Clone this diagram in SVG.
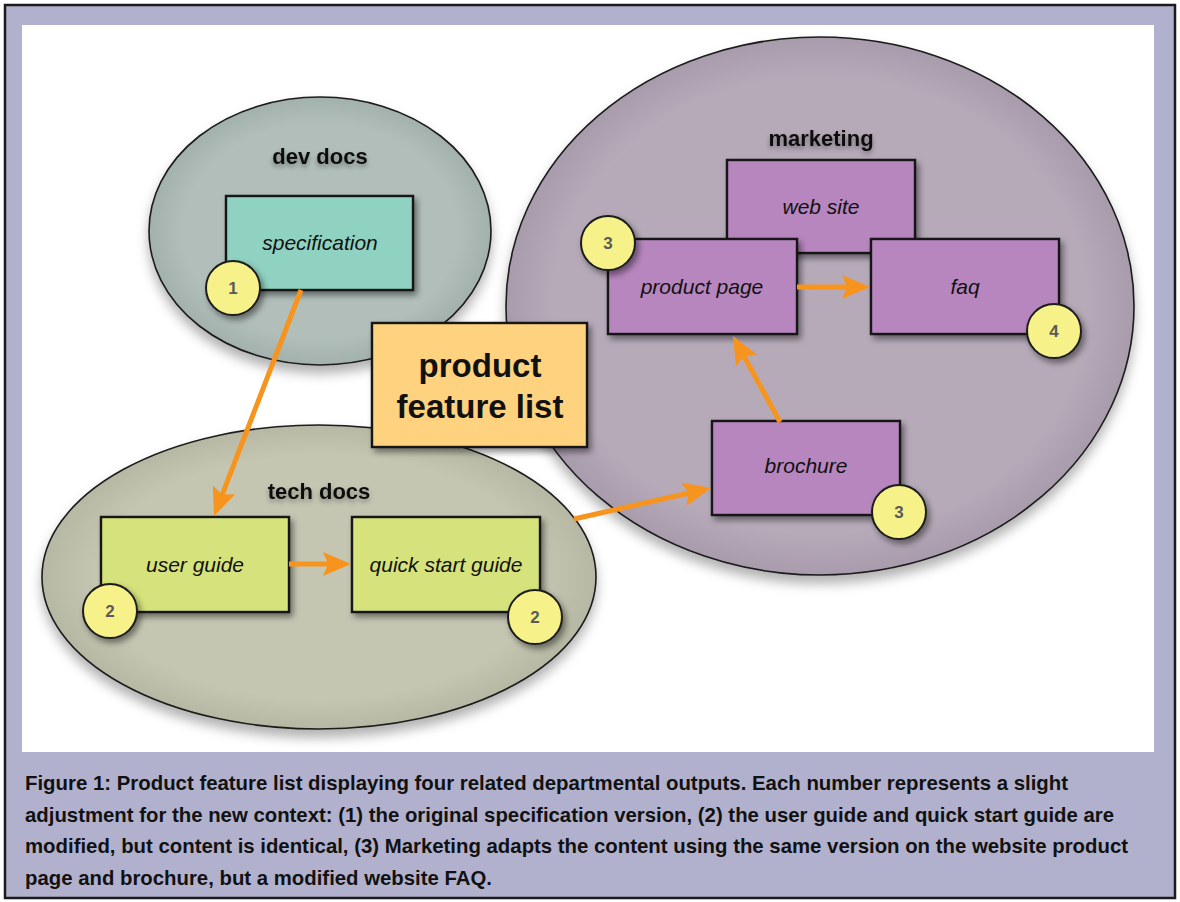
<svg xmlns="http://www.w3.org/2000/svg" width="1180" height="902" viewBox="0 0 1180 902">
  <defs>
    <style>
      .grp { stroke: #1c1c1c; stroke-width: 1.6; }
      .box { stroke: #151515; stroke-width: 2.4; filter: url(#boxShadow); }
      .badge { fill: #F6F188; stroke: #1c1c1c; stroke-width: 2; filter: url(#boxShadow); }
      .badgeTxt { font-family: "Liberation Sans", Arial, sans-serif; font-weight: bold; font-size: 17px; fill: #5a5a5a; text-anchor: middle; }
      .grpTxt { font-family: "Liberation Sans", Arial, sans-serif; font-weight: bold; font-size: 22px; fill: #111; text-anchor: middle; filter: url(#txtShadow); }
      .boxTxt { font-family: "Liberation Sans", Arial, sans-serif; font-style: italic; font-size: 21px; fill: #111; text-anchor: middle; }
      .bigTxt { font-family: "Liberation Sans", Arial, sans-serif; font-weight: bold; font-size: 33px; fill: #111; text-anchor: middle; }
      .cap { font-family: "Liberation Sans", Arial, sans-serif; font-weight: bold; font-size: 21px; fill: #111; }
      .arrow { stroke: #F7941D; stroke-width: 5; fill: none; marker-end: url(#head); }
    </style>
    <filter id="boxShadow" x="-20%" y="-20%" width="150%" height="160%">
      <feDropShadow dx="3" dy="4" stdDeviation="3" flood-color="#000" flood-opacity="0.45"/>
    </filter>
    <filter id="ellShadow" x="-10%" y="-10%" width="120%" height="130%">
      <feDropShadow dx="0" dy="8" stdDeviation="6" flood-color="#000" flood-opacity="0.3"/>
    </filter>
    <filter id="txtShadow" x="-20%" y="-40%" width="140%" height="200%">
      <feDropShadow dx="0" dy="3" stdDeviation="2.5" flood-color="#000" flood-opacity="0.35"/>
    </filter>
    <radialGradient id="gDev" cx="50%" cy="50%" r="50%">
      <stop offset="0.8" stop-color="#B1BEB9"/>
      <stop offset="1" stop-color="#A3B1AC"/>
    </radialGradient>
    <radialGradient id="gTech" cx="50%" cy="50%" r="50%">
      <stop offset="0.8" stop-color="#C5C6B2"/>
      <stop offset="1" stop-color="#B7B8A3"/>
    </radialGradient>
    <radialGradient id="gMkt" cx="50%" cy="50%" r="50%">
      <stop offset="0.85" stop-color="#B6AAB9"/>
      <stop offset="1" stop-color="#A89BAC"/>
    </radialGradient>
    <marker id="head" viewBox="0 0 28 24" refX="18" refY="12" markerWidth="28" markerHeight="24" markerUnits="userSpaceOnUse" orient="auto">
      <path d="M0,0 L28,12 L0,24 L5,12 Z" fill="#F7941D"/>
    </marker>
  </defs>

  <!-- frame -->
  <rect x="5" y="5" width="1170" height="893" fill="#B1B1CE" stroke="#1b1b1b" stroke-width="2.5"/>
  <rect x="22" y="25" width="1132" height="727" fill="#FFFFFF"/>

  <!-- group ellipses -->
  <g id="marketing">
    <ellipse cx="820" cy="306" rx="314" ry="269" fill="url(#gMkt)" class="grp" filter="url(#ellShadow)"/>
    <text x="821" y="146" class="grpTxt">marketing</text>
  </g>
  <g id="dev-docs">
    <ellipse cx="320" cy="231" rx="171" ry="134" fill="url(#gDev)" class="grp" filter="url(#ellShadow)"/>
    <text x="320" y="164" class="grpTxt">dev docs</text>
  </g>
  <g id="tech-docs">
    <ellipse cx="319" cy="577" rx="277" ry="152" fill="url(#gTech)" class="grp" filter="url(#ellShadow)"/>
    <text x="319" y="499" class="grpTxt">tech docs</text>
  </g>

  <!-- nodes -->
  <g id="web-site">
    <rect x="727" y="160" width="188" height="93" fill="#B786BE" class="box"/>
    <text x="821" y="214" class="boxTxt">web site</text>
  </g>
  <g id="specification">
    <rect x="226" y="196" width="187" height="94" fill="#8FD2C1" class="box"/>
    <text x="320" y="250" class="boxTxt">specification</text>
  </g>
  <g id="product-page">
    <rect x="608" y="239" width="189" height="95" fill="#B786BE" class="box"/>
    <text x="702" y="294" class="boxTxt">product page</text>
  </g>
  <g id="faq">
    <rect x="871" y="239" width="188" height="95" fill="#B786BE" class="box"/>
    <text x="965" y="294" class="boxTxt">faq</text>
  </g>
  <g id="brochure">
    <rect x="712" y="421" width="188" height="94" fill="#B786BE" class="box"/>
    <text x="806" y="473" class="boxTxt">brochure</text>
  </g>
  <g id="user-guide">
    <rect x="101" y="517" width="188" height="95" fill="#D6E27B" class="box"/>
    <text x="195" y="572" class="boxTxt">user guide</text>
  </g>
  <g id="quick-start-guide">
    <rect x="352" y="517" width="188" height="95" fill="#D6E27B" class="box"/>
    <text x="446" y="572" class="boxTxt">quick start guide</text>
  </g>

  <!-- connectors -->
  <g id="connectors">
    <line x1="301" y1="290" x2="217.6" y2="506.7" class="arrow"/>
    <line x1="289" y1="564" x2="341" y2="564" class="arrow"/>
    <line x1="574" y1="519" x2="701.3" y2="490.2" class="arrow"/>
    <line x1="780" y1="422" x2="737.8" y2="344.8" class="arrow"/>
    <line x1="797" y1="287" x2="860" y2="287" class="arrow"/>
  </g>

  <!-- badges -->
  <g id="badge-spec">
    <circle cx="233" cy="288" r="27" class="badge"/>
    <text x="233" y="294" class="badgeTxt">1</text>
  </g>
  <g id="badge-product-page">
    <circle cx="608" cy="243" r="27" class="badge"/>
    <text x="608" y="249" class="badgeTxt">3</text>
  </g>
  <g id="badge-faq">
    <circle cx="1054" cy="331" r="27" class="badge"/>
    <text x="1054" y="337" class="badgeTxt">4</text>
  </g>
  <g id="badge-brochure">
    <circle cx="899" cy="512" r="27" class="badge"/>
    <text x="899" y="518" class="badgeTxt">3</text>
  </g>
  <g id="badge-user-guide">
    <circle cx="110" cy="611" r="27" class="badge"/>
    <text x="110" y="617" class="badgeTxt">2</text>
  </g>
  <g id="badge-quick-start">
    <circle cx="535" cy="617" r="27" class="badge"/>
    <text x="535" y="623" class="badgeTxt">2</text>
  </g>

  <!-- central node -->
  <g id="product-feature-list">
    <rect x="372" y="323" width="215" height="124" fill="#FFD27F" class="box"/>
    <text x="480" y="377" class="bigTxt">product</text>
    <text x="480" y="418" class="bigTxt">feature list</text>
  </g>

  <!-- caption -->
  <g id="caption">
    <text x="25" y="790" class="cap" textLength="1043" lengthAdjust="spacingAndGlyphs">Figure 1: Product feature list displaying four related departmental outputs. Each number represents a slight</text>
    <text x="25" y="822" class="cap" textLength="1089" lengthAdjust="spacingAndGlyphs">adjustment for the new context: (1) the original specification version, (2) the user guide and quick start guide are</text>
    <text x="25" y="853" class="cap" textLength="1103" lengthAdjust="spacingAndGlyphs">modified, but content is identical, (3) Marketing adapts the content using the same version on the website product</text>
    <text x="25" y="885" class="cap" textLength="467" lengthAdjust="spacingAndGlyphs">page and brochure, but a modified website FAQ.</text>
  </g>
</svg>
